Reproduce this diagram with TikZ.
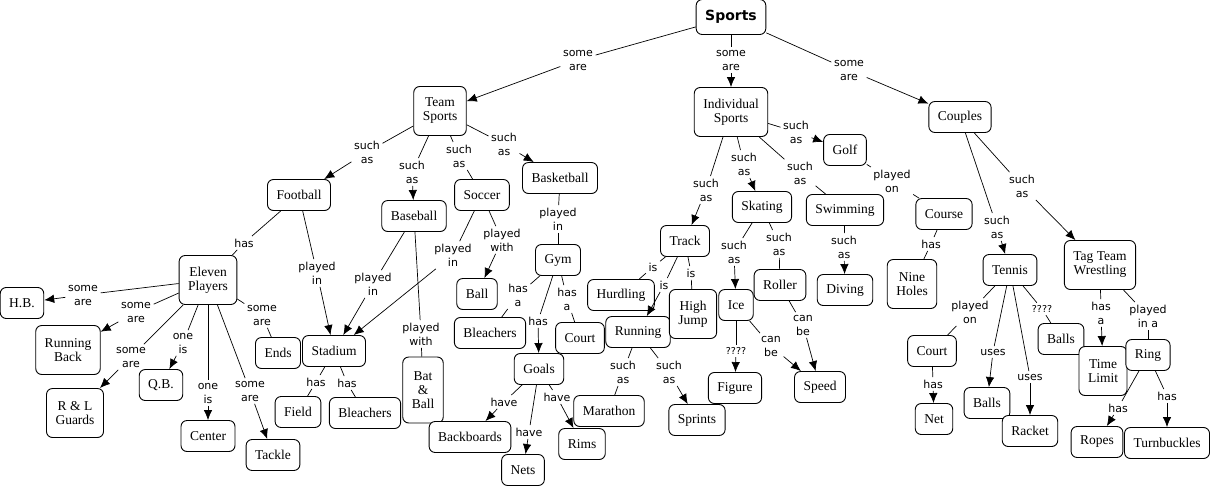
\documentclass[tikz,border=0pt]{standalone}
\usepackage{fontspec}
\setmainfont{Liberation Serif}
\newfontfamily\linkfont{DejaVu Sans}
\usetikzlibrary{arrows.meta}

\begin{document}
\begin{tikzpicture}[
    x=1pt, y=-1pt,
    concept/.style={draw, rounded corners=6pt, line width=0.9pt, fill=white, align=center, inner xsep=9pt, inner ysep=3pt, minimum height=31pt, font=\fontsize{13.5}{14}\selectfont},
    twoline/.style={minimum height=49pt},
    threeline/.style={minimum height=66pt},
    root/.style={concept, minimum height=35pt, font=\linkfont\bfseries\fontsize{14}{16}\selectfont},
    link/.style={align=center, inner sep=2.5pt, font=\linkfont\fontsize{11}{14}\selectfont},
    qlink/.style={link, font=\linkfont\fontsize{9.5}{12}\selectfont},
    arrow/.style={-{Latex[length=10pt, width=8.5pt]}, line width=0.7pt},
    conn/.style={line width=0.7pt}
]
    \useasboundingbox (0,0) rectangle (1213,488);

    \node[root] (sp) at (731,17) {Sports};
    \node[concept, twoline] (ts) at (440,111) {Team\\Sports};
    \node[concept, twoline] (ind) at (731,112) {Individual\\Sports};
    \node[concept] (cp) at (960,117) {Couples};

    \node[concept] (fb) at (299,195) {Football};
    \node[concept] (bsb) at (414,216) {Baseball};
    \node[concept] (soc) at (482,195) {Soccer};
    \node[concept] (bkb) at (560,178) {Basketball};
    \node[concept] (gym) at (558,260) {Gym};
    \node[concept] (trk) at (685,241) {Track};
    \node[concept] (skt) at (762,207) {Skating};
    \node[concept] (golf) at (845,150) {Golf};
    \node[concept] (swm) at (845,210) {Swimming};
    \node[concept] (crs) at (944,214) {Course};
    \node[concept] (ten) at (1010,270) {Tennis};
    \node[concept, twoline] (ttw) at (1100,265) {Tag Team\\Wrestling};

    \node[concept, twoline] (ele) at (208,280) {Eleven\\Players};
    \node[concept] (hb) at (22,303) {H.B.};
    \node[concept, twoline] (rb) at (68,350) {Running\\Back};
    \node[concept, twoline] (rlg) at (75,413) {R \& L\\Guards};
    \node[concept] (qb) at (161,385) {Q.B.};
    \node[concept] (ctr) at (208,436) {Center};
    \node[concept] (tck) at (273,455) {Tackle};
    \node[concept] (ends) at (278,353) {Ends};
    \node[concept] (std) at (334,351) {Stadium};
    \node[concept] (fld) at (298,412) {Field};
    \node[concept] (blf) at (365,413) {Bleachers};
    \node[concept, threeline] (bab) at (423,390) {Bat\\\&\\Ball};

    \node[concept] (ball) at (477,294) {Ball};
    \node[concept] (blb) at (490,333) {Bleachers};
    \node[concept] (crtb) at (580,338) {Court};
    \node[concept] (goals) at (539,369) {Goals};
    \node[concept] (bkbd) at (470,437) {Backboards};
    \node[concept] (nets) at (523,470) {Nets};
    \node[concept] (rims) at (582,444) {Rims};

    \node[concept] (mar) at (609,411) {Marathon};
    \node[concept] (hur) at (621,295) {Hurdling};
    \node[concept] (run) at (638,332) {Running};
    \node[concept, twoline] (hj) at (693,314) {High\\Jump};
    \node[concept] (ice) at (736,305) {Ice};
    \node[concept] (rol) at (780,285) {Roller};
    \node[concept] (spr) at (697,420) {Sprints};
    \node[concept] (fig) at (735,388) {Figure};
    \node[concept] (spd) at (820,387) {Speed};
    \node[concept] (div) at (845,290) {Diving};
    \node[concept, twoline] (nh) at (912,284) {Nine\\Holes};

    \node[concept] (crtt) at (932,351) {Court};
    \node[concept] (net) at (934,419) {Net};
    \node[concept] (balt) at (987,403) {Balls};
    \node[concept] (rkt) at (1030,431) {Racket};
    \node[concept] (balw) at (1061,339) {Balls};
    \node[concept, twoline] (tl) at (1103,371) {Time\\Limit};
    \node[concept] (ring) at (1148,355) {Ring};
    \node[concept] (rop) at (1097,442) {Ropes};
    \node[concept] (tb) at (1167,443) {Turnbuckles};

    \node[link] (sp2ts) at (578,60) {some\\are};
    \node[link] (sp2ind) at (731,60) {some\\are};
    \node[link] (sp2cp) at (849,70) {some\\are};
    \node[link] (ts2fb) at (367,152) {such\\as};
    \node[link] (ts2bsb) at (412,172) {such\\as};
    \node[link] (ts2soc) at (459,156) {such\\as};
    \node[link] (ts2bkb) at (504,144) {such\\as};
    \node[link] (fb2ele) at (244,243) {has};
    \node[link] (fb2std) at (317,273) {played\\in};
    \node[link] (bsb2std) at (373,284) {played\\in};
    \node[link] (soc2std) at (453,255) {played\\in};
    \node[link] (bsb2bab) at (421,334) {played\\with};
    \node[link] (soc2ball) at (502,240) {played\\with};
    \node[link] (bkb2gym) at (558,219) {played\\in};
    \node[link] (gym2blb) at (518,295) {has\\a};
    \node[link] (gym2crt) at (567,299) {has\\a};
    \node[link] (gym2goals) at (538,321) {has};
    \node[link] (goals2bkbd) at (504,402) {have};
    \node[link] (goals2nets) at (529,432) {have};
    \node[link] (goals2rims) at (557,397) {have};
    \node[link] (ele2hb) at (83,295) {some\\are};
    \node[link] (ele2rb) at (136,312) {some\\are};
    \node[link] (ele2rlg) at (131,357) {some\\are};
    \node[link] (ele2qb) at (183,343) {one\\is};
    \node[link] (ele2ctr) at (208,393) {one\\is};
    \node[link] (ele2tck) at (250,391) {some\\are};
    \node[link] (ele2ends) at (262,315) {some\\are};
    \node[link] (std2fld) at (316,382) {has};
    \node[link] (std2blf) at (347,383) {has};
    \node[link] (ind2golf) at (796,132) {such\\as};
    \node[link] (ind2skt) at (744,164) {such\\as};
    \node[link] (ind2swm) at (800,173) {such\\as};
    \node[link] (ind2trk) at (706,190) {such\\as};
    \node[link] (golf2crs) at (892,181) {played\\on};
    \node[link] (crs2nh) at (931,244) {has};
    \node[link] (swm2div) at (844,247) {such\\as};
    \node[link] (trk2hur) at (653,267) {is};
    \node[link] (trk2run) at (664,285) {is};
    \node[link] (trk2hj) at (691,273) {is};
    \node[link] (skt2ice) at (734,252) {such\\as};
    \node[link] (skt2rol) at (779,244) {such\\as};
    \node[qlink] (ice2fig) at (736,351) {????};
    \node[link] (ice2spd) at (771,346) {can\\be};
    \node[link] (rol2spd) at (803,325) {can\\be};
    \node[link] (run2mar) at (623,372) {such\\as};
    \node[link] (run2spr) at (669,372) {such\\as};
    \node[link] (cp2ten) at (997,227) {such\\as};
    \node[link] (cp2ttw) at (1022,186) {such\\as};
    \node[link] (ten2crt) at (970,312) {played\\on};
    \node[link] (crt2net) at (933,384) {has};
    \node[link] (ten2balt) at (993,352) {uses};
    \node[link] (ten2rkt) at (1030,377) {uses};
    \node[qlink] (ten2balw) at (1042,309) {????};
    \node[link] (ttw2tl) at (1101,313) {has\\a};
    \node[link] (ttw2ring) at (1148,316) {played\\in a};
    \node[link] (ring2rop) at (1118,408) {has};
    \node[link] (ring2tb) at (1167,396) {has};

    \draw[conn] (sp) -- (sp2ts); \draw[arrow] (sp2ts) -- (ts);
    \draw[conn] (sp) -- (sp2ind); \draw[arrow] (sp2ind) -- (ind);
    \draw[conn] (sp) -- (sp2cp); \draw[arrow] (sp2cp) -- (cp);
    \draw[conn] (ts) -- (ts2fb); \draw[arrow] (ts2fb) -- (fb);
    \draw[conn] (ts) -- (ts2bsb); \draw[arrow] (ts2bsb) -- (bsb);
    \draw[conn] (ts) -- (ts2soc); \draw[conn] (ts2soc) -- (soc);
    \draw[conn] (ts) -- (ts2bkb); \draw[arrow] (ts2bkb) -- (bkb);
    \draw[conn] (fb) -- (fb2ele); \draw[conn] (fb2ele) -- (ele);
    \draw[conn] (fb) -- (fb2std); \draw[arrow] (fb2std) -- (std);
    \draw[conn] (bsb) -- (bsb2std); \draw[arrow] (bsb2std) -- (std);
    \draw[conn] (soc) -- (soc2std); \draw[arrow] (soc2std) -- (std);
    \draw[conn] (bsb) -- (bsb2bab); \draw[conn] (bsb2bab) -- (bab);
    \draw[conn] (soc) -- (soc2ball); \draw[arrow] (soc2ball) -- (ball);
    \draw[conn] (bkb) -- (bkb2gym); \draw[conn] (bkb2gym) -- (gym);
    \draw[conn] (gym) -- (gym2blb); \draw[conn] (gym2blb) -- (blb);
    \draw[conn] (gym) -- (gym2crt); \draw[conn] (gym2crt) -- (crtb);
    \draw[conn] (gym) -- (gym2goals); \draw[arrow] (gym2goals) -- (goals);
    \draw[conn] (goals) -- (goals2bkbd); \draw[arrow] (goals2bkbd) -- (bkbd);
    \draw[conn] (goals) -- (goals2nets); \draw[arrow] (goals2nets) -- (nets);
    \draw[conn] (goals) -- (goals2rims); \draw[arrow] (goals2rims) -- (rims);
    \draw[conn] (ele) -- (ele2hb); \draw[arrow] (ele2hb) -- (hb);
    \draw[conn] (ele) -- (ele2rb); \draw[arrow] (ele2rb) -- (rb);
    \draw[conn] (ele) -- (ele2rlg); \draw[arrow] (ele2rlg) -- (rlg);
    \draw[conn] (ele) -- (ele2qb); \draw[arrow] (ele2qb) -- (qb);
    \draw[conn] (ele) -- (ele2ctr); \draw[arrow] (ele2ctr) -- (ctr);
    \draw[conn] (ele) -- (ele2tck); \draw[arrow] (ele2tck) -- (tck);
    \draw[conn] (ele) -- (ele2ends); \draw[conn] (ele2ends) -- (ends);
    \draw[conn] (std) -- (std2fld); \draw[conn] (std2fld) -- (fld);
    \draw[conn] (std) -- (std2blf); \draw[conn] (std2blf) -- (blf);
    \draw[conn] (ind) -- (ind2golf); \draw[arrow] (ind2golf) -- (golf);
    \draw[conn] (ind) -- (ind2skt); \draw[arrow] (ind2skt) -- (skt);
    \draw[conn] (ind) -- (ind2swm); \draw[conn] (ind2swm) -- (swm);
    \draw[conn] (ind) -- (ind2trk); \draw[arrow] (ind2trk) -- (trk);
    \draw[conn] (golf) -- (golf2crs); \draw[conn] (golf2crs) -- (crs);
    \draw[conn] (crs) -- (crs2nh); \draw[conn] (crs2nh) -- (nh);
    \draw[conn] (swm) -- (swm2div); \draw[arrow] (swm2div) -- (div);
    \draw[conn] (trk) -- (trk2hur); \draw[conn] (trk2hur) -- (hur);
    \draw[conn] (trk) -- (trk2run); \draw[arrow] (trk2run) -- (run);
    \draw[conn] (trk) -- (trk2hj); \draw[conn] (trk2hj) -- (hj);
    \draw[conn] (skt) -- (skt2ice); \draw[arrow] (skt2ice) -- (ice);
    \draw[conn] (skt) -- (skt2rol); \draw[conn] (skt2rol) -- (rol);
    \draw[conn] (ice) -- (ice2fig); \draw[arrow] (ice2fig) -- (fig);
    \draw[conn] (ice) -- (ice2spd); \draw[arrow] (ice2spd) -- (spd);
    \draw[conn] (rol) -- (rol2spd); \draw[arrow] (rol2spd) -- (spd);
    \draw[conn] (run) -- (run2mar); \draw[conn] (run2mar) -- (mar);
    \draw[conn] (run) -- (run2spr); \draw[arrow] (run2spr) -- (spr);
    \draw[conn] (cp) -- (cp2ten); \draw[arrow] (cp2ten) -- (ten);
    \draw[conn] (cp) -- (cp2ttw); \draw[arrow] (cp2ttw) -- (ttw);
    \draw[conn] (ten) -- (ten2crt); \draw[conn] (ten2crt) -- (crtt);
    \draw[conn] (crtt) -- (crt2net); \draw[arrow] (crt2net) -- (net);
    \draw[conn] (ten) -- (ten2balt); \draw[arrow] (ten2balt) -- (balt);
    \draw[conn] (ten) -- (ten2rkt); \draw[arrow] (ten2rkt) -- (rkt);
    \draw[conn] (ten) -- (ten2balw); \draw[conn] (ten2balw) -- (balw);
    \draw[conn] (ttw) -- (ttw2tl); \draw[arrow] (ttw2tl) -- (tl);
    \draw[conn] (ttw) -- (ttw2ring); \draw[conn] (ttw2ring) -- (ring);
    \draw[conn] (ring) -- (ring2rop); \draw[arrow] (ring2rop) -- (rop);
    \draw[conn] (ring) -- (ring2tb); \draw[arrow] (ring2tb) -- (tb);
\end{tikzpicture}
\end{document}
